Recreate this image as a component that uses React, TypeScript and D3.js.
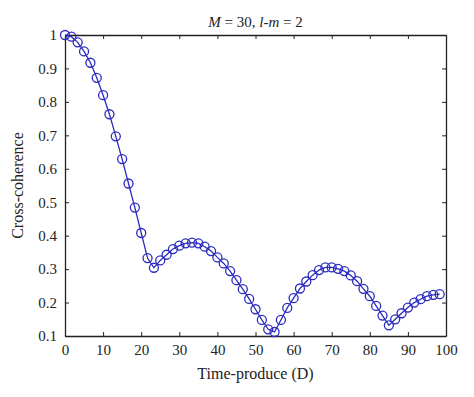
import React, { useEffect, useRef } from "react";
import * as d3 from "d3";

// sample positions: 60 points, step 5/3
const xStep = 5 / 3;
const coherence = [
  1.0, 0.995, 0.978, 0.951, 0.917, 0.872, 0.82, 0.763, 0.697, 0.629,
  0.556, 0.484, 0.408, 0.333, 0.304, 0.326, 0.343, 0.36, 0.37, 0.377,
  0.379, 0.377, 0.367, 0.354, 0.335, 0.317, 0.294, 0.267, 0.24, 0.211,
  0.18, 0.148, 0.12, 0.112, 0.148, 0.184, 0.213, 0.242, 0.263, 0.282,
  0.297, 0.305, 0.305, 0.301, 0.294, 0.281, 0.264, 0.241, 0.219, 0.19,
  0.161, 0.132, 0.15, 0.168, 0.185, 0.2, 0.21, 0.219, 0.223, 0.225,
];
const xTicks = [0, 10, 20, 30, 40, 50, 60, 70, 80, 90, 100];
const yTicks = [0.1, 0.2, 0.3, 0.4, 0.5, 0.6, 0.7, 0.8, 0.9, 1];

const App = () => {
  const ref = useRef<SVGSVGElement>(null);

  useEffect(() => {
    const svg = d3.select(ref.current);
    svg.selectAll("*").remove();

    const width = 474;
    const height = 397;
    const margin = { top: 35, right: 28, bottom: 61, left: 65 };
    const font = "Liberation Serif, Times New Roman, serif";
    const blue = "#2b2bbf";

    svg.attr("width", width).attr("height", height).style("font-family", font);

    const x = d3.scaleLinear().domain([0, 100]).range([margin.left, width - margin.right]);
    const y = d3.scaleLinear().domain([0.1, 1]).range([height - margin.bottom, margin.top]);

    const data = coherence.map((v, i) => ({ t: i * xStep, v }));

    const axisColor = "#222";
    const bottom = svg
      .append("g")
      .attr("transform", `translate(0,${height - margin.bottom})`)
      .call(d3.axisBottom(x).tickValues(xTicks).tickSizeInner(-4).tickSizeOuter(0).tickPadding(8));
    const left = svg
      .append("g")
      .attr("transform", `translate(${margin.left},0)`)
      .call(
        d3.axisLeft(y).tickValues(yTicks).tickSizeInner(-4).tickSizeOuter(0).tickPadding(8)
          .tickFormat((d) => (d === 1 ? "1" : d3.format(".1f")(d as number)))
      );
    const top = svg
      .append("g")
      .attr("transform", `translate(0,${margin.top})`)
      .call(d3.axisTop(x).tickValues(xTicks).tickSizeInner(-4).tickSizeOuter(0).tickFormat(() => ""));
    const right = svg
      .append("g")
      .attr("transform", `translate(${width - margin.right},0)`)
      .call(d3.axisRight(y).tickValues(yTicks).tickSizeInner(-4).tickSizeOuter(0).tickFormat(() => ""));

    [bottom, left, top, right].forEach((g) => {
      g.attr("font-family", null);
      g.select(".domain").attr("stroke", axisColor).attr("stroke-width", 1.3);
      g.selectAll(".tick line").attr("stroke", axisColor);
      g.selectAll("text").style("font-family", font).attr("font-size", 15).attr("fill", "#222");
    });

    svg
      .append("path")
      .datum(data)
      .attr("fill", "none")
      .attr("stroke", blue)
      .attr("stroke-width", 1.3)
      .attr("d", d3.line<{ t: number; v: number }>().x((d) => x(d.t)).y((d) => y(d.v)));

    svg
      .selectAll(".pt")
      .data(data)
      .enter()
      .append("circle")
      .attr("class", "pt")
      .attr("cx", (d) => x(d.t))
      .attr("cy", (d) => y(d.v))
      .attr("r", 4.5)
      .attr("fill", "none")
      .attr("stroke", blue)
      .attr("stroke-width", 1.3);

    const title = svg
      .append("text")
      .attr("x", (margin.left + width - margin.right) / 2)
      .attr("y", 27)
      .attr("text-anchor", "middle")
      .style("font-family", font)
      .attr("font-size", 15)
      .attr("fill", "#222");
    title.append("tspan").attr("font-style", "italic").text("M");
    title.append("tspan").text(" = 30, ");
    title.append("tspan").attr("font-style", "italic").text("l");
    title.append("tspan").text("-");
    title.append("tspan").attr("font-style", "italic").text("m");
    title.append("tspan").text(" = 2");

    svg
      .append("text")
      .attr("x", (margin.left + width - margin.right) / 2)
      .attr("y", 379)
      .attr("text-anchor", "middle")
      .style("font-family", font)
      .attr("font-size", 16)
      .attr("fill", "#222")
      .text("Time-produce (D)");

    svg
      .append("text")
      .attr("transform", `translate(23,${(margin.top + height - margin.bottom) / 2}) rotate(-90)`)
      .attr("text-anchor", "middle")
      .style("font-family", font)
      .attr("font-size", 16)
      .attr("fill", "#222")
      .text("Cross-coherence");
  }, []);

  return <svg ref={ref} style={{ position: "absolute", left: 0, top: 0 }}></svg>;
};

export default App;
